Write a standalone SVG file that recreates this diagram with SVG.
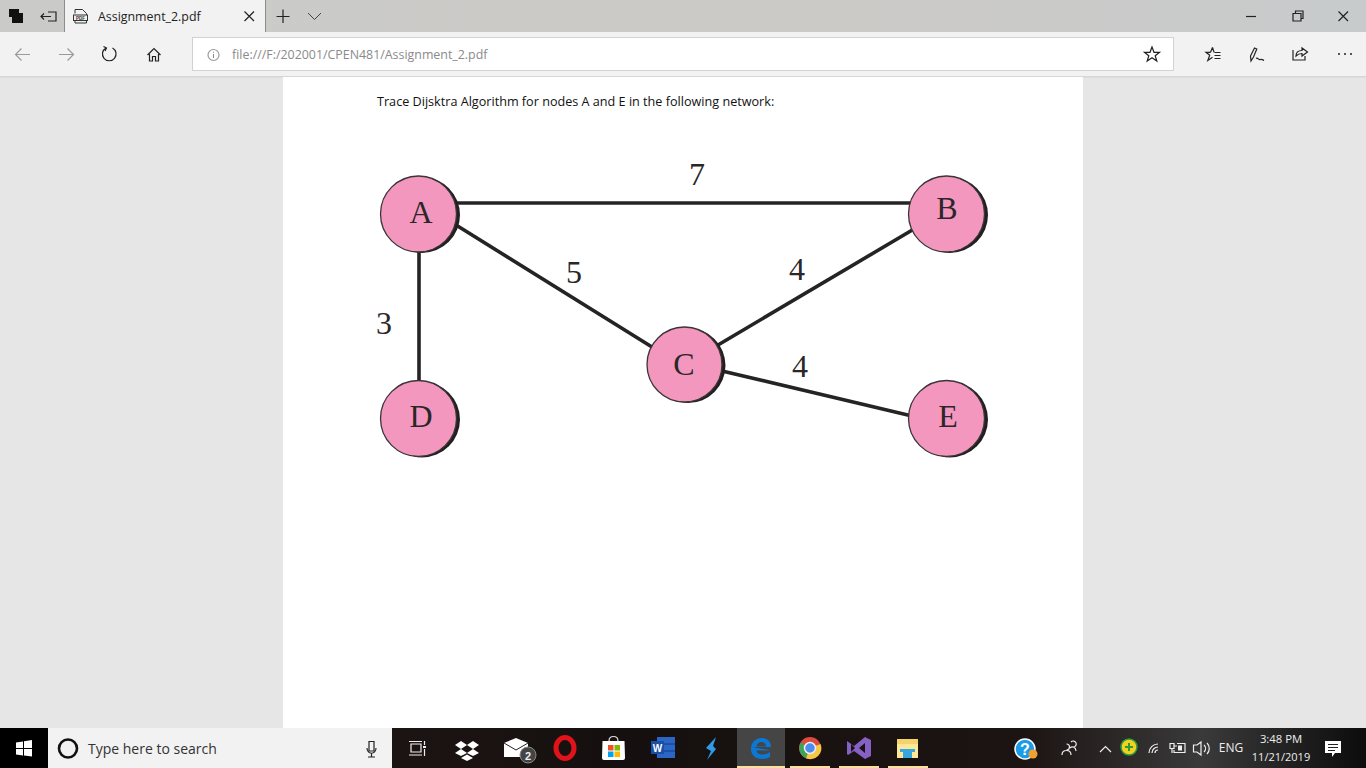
<svg xmlns="http://www.w3.org/2000/svg" width="1366" height="768" viewBox="0 0 1366 768">
<defs>
<linearGradient id="tb" x1="0" x2="1" y1="0" y2="0"><stop offset="0" stop-color="#cacbc9"/><stop offset=".6" stop-color="#cccac7"/><stop offset="1" stop-color="#c8cbcc"/></linearGradient>
<linearGradient id="task" x1="0" x2="1" y1="0" y2="0"><stop offset="0" stop-color="#2a1c1c"/><stop offset=".45" stop-color="#15100f"/><stop offset=".75" stop-color="#1c1413"/><stop offset=".88" stop-color="#3a3a3a"/><stop offset="1" stop-color="#0c0c0c"/></linearGradient>
</defs>
<style>
.ui{font-family:"Segoe UI","Open Sans","Noto Sans","Liberation Sans",sans-serif}
.ic{fill:none;stroke:#222;stroke-width:1.2}
.icg{fill:none;stroke:#9a9a9a;stroke-width:1.2}
.icw{fill:none;stroke:#eee;stroke-width:1.2}
.edge{fill:none;stroke:#262324;stroke-width:3.600}
.shadow{fill:#231f20}
.disc{fill:#f497bf;stroke:#3a3536;stroke-width:1.300}
.lab{font-family:"Liberation Serif","Times New Roman",serif;fill:#2b2728;font-size:32px;text-anchor:middle}
.run{fill:#fbdf9b}
.tray{font-family:"Open Sans","Noto Sans",sans-serif;fill:#eee;text-anchor:middle}
</style>
<rect width="1366" height="768" fill="#e6e6e6"/>
<g id="browser-chrome">
<rect width="1366" height="32" fill="url(#tb)"/>
<rect x="65" y="0" width="200" height="32" fill="#f2f2f2"/>
<path d="M64.500 0V32M265.500 0V32" stroke="#8c8c8c" fill="none"/>
<rect y="32" width="1366" height="44" fill="#f2f2f2"/>
<rect y="76" width="1366" height="1.500" fill="#d6d6d6"/>
<rect x="9" y="9" width="10" height="8" fill="#111"/><rect x="12" y="13" width="11" height="10" fill="#111"/>
<path class="ic" d="M48 12H56V21H48M41 16.500H51M44 13.500L41 16.500L44 19.500"/>
<path d="M75 13.500V9.500H82.500L86.500 13.500V15M75 20V23H86.500V20" fill="none" stroke="#333" stroke-width="1"/><rect x="73.500" y="15" width="14" height="5.500" fill="none" stroke="#333" stroke-width="1"/>
<text x="80.500" y="19.500" font-family="Liberation Sans,sans-serif" font-size="4.500" font-weight="700" fill="#333" text-anchor="middle">PDF</text>
<text class="ui" x="98" y="21" font-size="12.400" fill="#222">Assignment_2.pdf</text>
<path class="ic" d="M244.500 11.500L254 21M254 11.500L244.500 21"/>
<path class="ic" d="M283 9.500V23M276.500 16.500H289.500" stroke-width="1.400"/>
<path d="M308 13L314.500 19.500L321 13" fill="none" stroke="#444" stroke-width="1"/>
<path class="ic" d="M1246 16.500H1256"/>
<path class="ic" d="M1293 13.500H1301V21H1293ZM1295.500 13.500V11H1303V18.500H1301"/>
<path class="ic" d="M1338.500 11.500L1348 21M1348 11.500L1338.500 21"/>
<path class="icg" d="M16 54.500H30M21.500 48.500L15.500 54.500L21.500 60.500"/>
<path class="icg" d="M59 54.500H73M67.500 48.500L73.500 54.500L67.500 60.500"/>
<path class="ic" d="M106 48A6.800 6.800 0 1 0 112.500 48M103.500 46.500L106.500 48L105 51"/>
<path class="ic" d="M147.500 55L154 48.500L160.500 55M149.500 54V61H152.500V56.500H155.500V61H158.500V54"/>
<rect x="192.500" y="37.500" width="981" height="33" fill="#fff" stroke="#d2d2d2"/>
<circle class="icg" cx="213.500" cy="55" r="5.500" stroke-width="1"/><path d="M213.500 54V58M213.500 51.800V52.800" stroke="#888" fill="none"/>
<text class="ui" x="232" y="59" font-size="12.400" fill="#8a8a8a">file:///F:/202001/CPEN481/Assignment_2.pdf</text>
<path class="ic" d="M1152 47L1154 52.300H1159.500L1155.200 55.700L1156.800 61L1152 57.800L1147.200 61L1148.800 55.700L1144.500 52.300H1150Z"/>
<path class="ic" d="M1212.500 47.500L1214 52.300M1210.500 52.300H1206L1209.700 55.200L1207.800 60.500L1212.500 57.300M1210.500 52.300L1212.500 47.500M1214.500 52.500H1220.500M1214.500 55.500H1220.500M1214.500 58.500H1220.500"/>
<path class="ic" d="M1251 61L1250.500 56L1254.500 48L1256.800 49L1253.500 57ZM1256 58.500C1258 57 1258.500 60.500 1260.500 59.500C1262 59 1263 60 1264 60.500"/>
<path class="ic" d="M1293 50V60H1305V56M1296 56C1296 52 1299 50.500 1302 50.500V48L1307.500 52L1302 56V53.500C1299.500 53.500 1297.500 54.500 1296 56Z"/>
<path d="M1338 54H1340M1344 54H1346M1350 54H1352" stroke="#222" stroke-width="1.600"/>
</g>
<rect id="page" x="283" y="77" width="800" height="651" fill="#fff"/>
<text id="heading" x="377" y="106" font-family="Open Sans,Noto Sans,sans-serif" font-size="12.630" fill="#111">Trace Dijsktra Algorithm for nodes A and E in the following network:</text>
<g id="connectors">
<path class="edge" d="M455 203H915"/>
<path class="edge" d="M419 250V385"/>
<path class="edge" d="M456 225L652 347"/>
<path class="edge" d="M718 345L914 229"/>
<path class="edge" d="M722 371L912 416"/>
</g>
<g id="edge-labels">
<text class="lab" x="697" y="185">7</text>
<text class="lab" x="574" y="283">5</text>
<text class="lab" x="797" y="280">4</text>
<text class="lab" x="384" y="334">3</text>
<text class="lab" x="800" y="377">4</text>
</g>
<g id="node-A"><circle class="shadow" cx="422" cy="215" r="38"/><circle class="disc" cx="418.500" cy="214" r="38"/><text class="lab" x="421" y="223">A</text></g>
<g id="node-B"><circle class="shadow" cx="950" cy="215" r="38"/><circle class="disc" cx="946.500" cy="214" r="38"/><text class="lab" x="947" y="219">B</text></g>
<g id="node-C"><circle class="shadow" cx="688" cy="365.500" r="37.500"/><circle class="disc" cx="684.500" cy="364.500" r="37.500"/><text class="lab" x="684" y="375">C</text></g>
<g id="node-D"><circle class="shadow" cx="422" cy="419.500" r="38"/><circle class="disc" cx="418.500" cy="418.500" r="38"/><text class="lab" x="421" y="427">D</text></g>
<g id="node-E"><circle class="shadow" cx="950" cy="419.500" r="38"/><circle class="disc" cx="946.500" cy="418.500" r="38"/><text class="lab" x="948" y="427">E</text></g>
<g id="taskbar">
<rect y="728" width="1366" height="40" fill="url(#task)"/>
<rect y="728" width="48" height="40" fill="#000"/>
<path d="M16 742.500L23 741.500V748H16ZM24 741.300L32 740V748H24ZM16 749H23V755.500L16 754.500ZM24 749H32V756.500L24 755.500Z" fill="#fff"/>
<rect x="48" y="728" width="344" height="40" fill="#f2f2f2"/>
<circle cx="68" cy="748.500" r="9" fill="none" stroke="#111" stroke-width="2.600"/>
<text class="ui" x="88" y="754" font-size="14" fill="#333">Type here to search</text>
<path class="ic" d="M369 741.500H374V751H369ZM367 748C367 755 376 755 376 748M371.500 753V757M368 757H375"/>
<path class="icw" d="M411 744H421V752H411ZM409 741.500H422M409 755H422M424.500 741V745M424.500 749V756"/><rect x="423" y="746" width="3" height="2" fill="#eee"/>
<path d="M461 741L467 745L461 749L455 745ZM473 741L479 745L473 749L467 745ZM461 749L467 753L473 749L479 753L473 756L467 753L461 756L455 753ZM461 758L467 754.500L473 758L467 761Z" fill="#fff"/>
<path d="M504 743L516 738L528 743V757H504Z" fill="#fff"/><path d="M504 743L516 750L528 743" fill="none" stroke="#222" stroke-width="1"/>
<circle cx="528" cy="755" r="8" fill="#444" stroke="#888"/><text x="528" y="759.500" font-family="Liberation Sans,sans-serif" font-weight="700" font-size="11" fill="#eee" text-anchor="middle">2</text>
<ellipse cx="565" cy="748" rx="9" ry="10.500" fill="none" stroke="#e0131a" stroke-width="5"/>
<path d="M602.500 741H624.500L625 758Q625 760 623 760H604Q602 760 602 758Z" fill="#fff"/><path d="M609 741C609 735 618 735 618 741" fill="none" stroke="#ddd" stroke-width="1.200"/>
<rect x="608" y="745" width="5.500" height="5.500" fill="#f25022"/><rect x="614.500" y="745" width="5.500" height="5.500" fill="#7fba00"/><rect x="608" y="751.500" width="5.500" height="5.500" fill="#00a4ef"/><rect x="614.500" y="751.500" width="5.500" height="5.500" fill="#ffb900"/>
<rect x="657" y="737" width="18" height="21" fill="#2b66c4"/><path d="M657 744H675M657 751H675" stroke="#164a9e" stroke-width="1.500"/><rect x="651" y="741" width="13" height="13" fill="#1a4fa8"/>
<text x="657.500" y="751.500" font-family="Liberation Sans,sans-serif" font-weight="700" font-size="10" fill="#fff" text-anchor="middle">W</text>
<path d="M716 737L706 748L711 751L707 760L716 749L713 746Z" fill="#2f9be8"/>
<rect x="737" y="728" width="48" height="40" fill="#454545"/>
<path d="M752.500 747H771C771 741 767 738 761.500 738C755 738 751 743 751 749C751 755 755.500 759 762 759C765.500 759 768 758.200 770 757V752C768 753.500 765.500 754.500 762.500 754.500C758.500 754.500 756.500 752.500 756.500 750.500H771M756.500 746.500C757 743.500 759 742 761.500 742C764 742 765.800 743.500 766 746.500Z" fill="#0a78d7" fill-rule="evenodd"/>
<circle cx="810" cy="748" r="11" fill="#dd4b3e"/><path d="M810 748L801 742.500A11 11 0 0 0 806 758.300Z" fill="#3da35a"/><path d="M810 748L820.500 744A11 11 0 0 1 806 758.300Z" fill="#f6c944"/><circle cx="810" cy="748" r="5.500" fill="#4a8ef0" stroke="#eee" stroke-width="1.500"/>
<path d="M847 741L854 746L865 737L871 740V756L865 759L854 751L848 755L847 754ZM851 744V752L855 748ZM865 743L859 748L865 753Z" fill="#8661c5" fill-rule="evenodd"/>
<path d="M897 739H918V758H897Z" fill="#f5d36b"/><path d="M897 744H918V758H897Z" fill="#ffe79a"/><path d="M903 758V752H912V758" fill="#35a7dc"/><rect x="900" y="749" width="15" height="3" fill="#35a7dc"/>
<rect class="run" x="737" y="766" width="48" height="2"/><rect class="run" x="790" y="766" width="40" height="2"/><rect class="run" x="839" y="766" width="40" height="2"/><rect class="run" x="888" y="766" width="40" height="2"/>
<circle cx="1025" cy="749" r="10" fill="#1e9be6" stroke="#fff" stroke-width="1.500"/><text x="1025" y="755" font-family="Liberation Sans,sans-serif" font-weight="700" font-size="16" fill="#fff" text-anchor="middle">?</text><circle cx="1033" cy="754" r="4.500" fill="#f0a030"/>
<path class="icw" d="M1062 755C1062 749 1071 749 1071 755M1066.500 750A3 3 0 1 0 1066.500 744M1070 748C1072 746 1076 747 1076 751M1073 747A3 3 0 1 0 1071 742"/>
<path class="icw" d="M1100 752L1105.500 746.500L1111 752"/>
<circle cx="1129" cy="747" r="8" fill="#f3d21f" stroke="#2b9a3e" stroke-width="1.500"/><path d="M1129 743V751M1125 747H1133" stroke="#2b9a3e" stroke-width="2"/>
<path class="icw" d="M1149 753A9 9 0 0 1 1158 744M1152 753A6 6 0 0 1 1158 747M1155 753A3 3 0 0 1 1158 750"/>
<path class="icw" d="M1170 743.500H1174V748.500H1170ZM1172 748.500V753M1174 746H1177M1177 743.500H1185V752.500H1174V750"/><rect x="1178" y="745.500" width="4" height="5" fill="#eee"/>
<path class="icw" d="M1193.500 745H1197L1201 742V755L1197 752H1193.500ZM1204 745C1206 747 1206 750 1204 752M1207 743C1210 746 1210 751 1207 754"/>
<text class="tray" x="1231" y="752" font-size="12">ENG</text>
<text class="tray" x="1281" y="743" font-size="11.300">3:48 PM</text>
<text class="tray" x="1281" y="761" font-size="11">11/21/2019</text>
<path d="M1325 741H1341V753H1335L1332 757V753H1325Z" fill="#fff"/><path d="M1328 744.500H1338M1328 747.500H1338M1328 750.500H1335" stroke="#222" stroke-width="1"/>
</g>
</svg>
